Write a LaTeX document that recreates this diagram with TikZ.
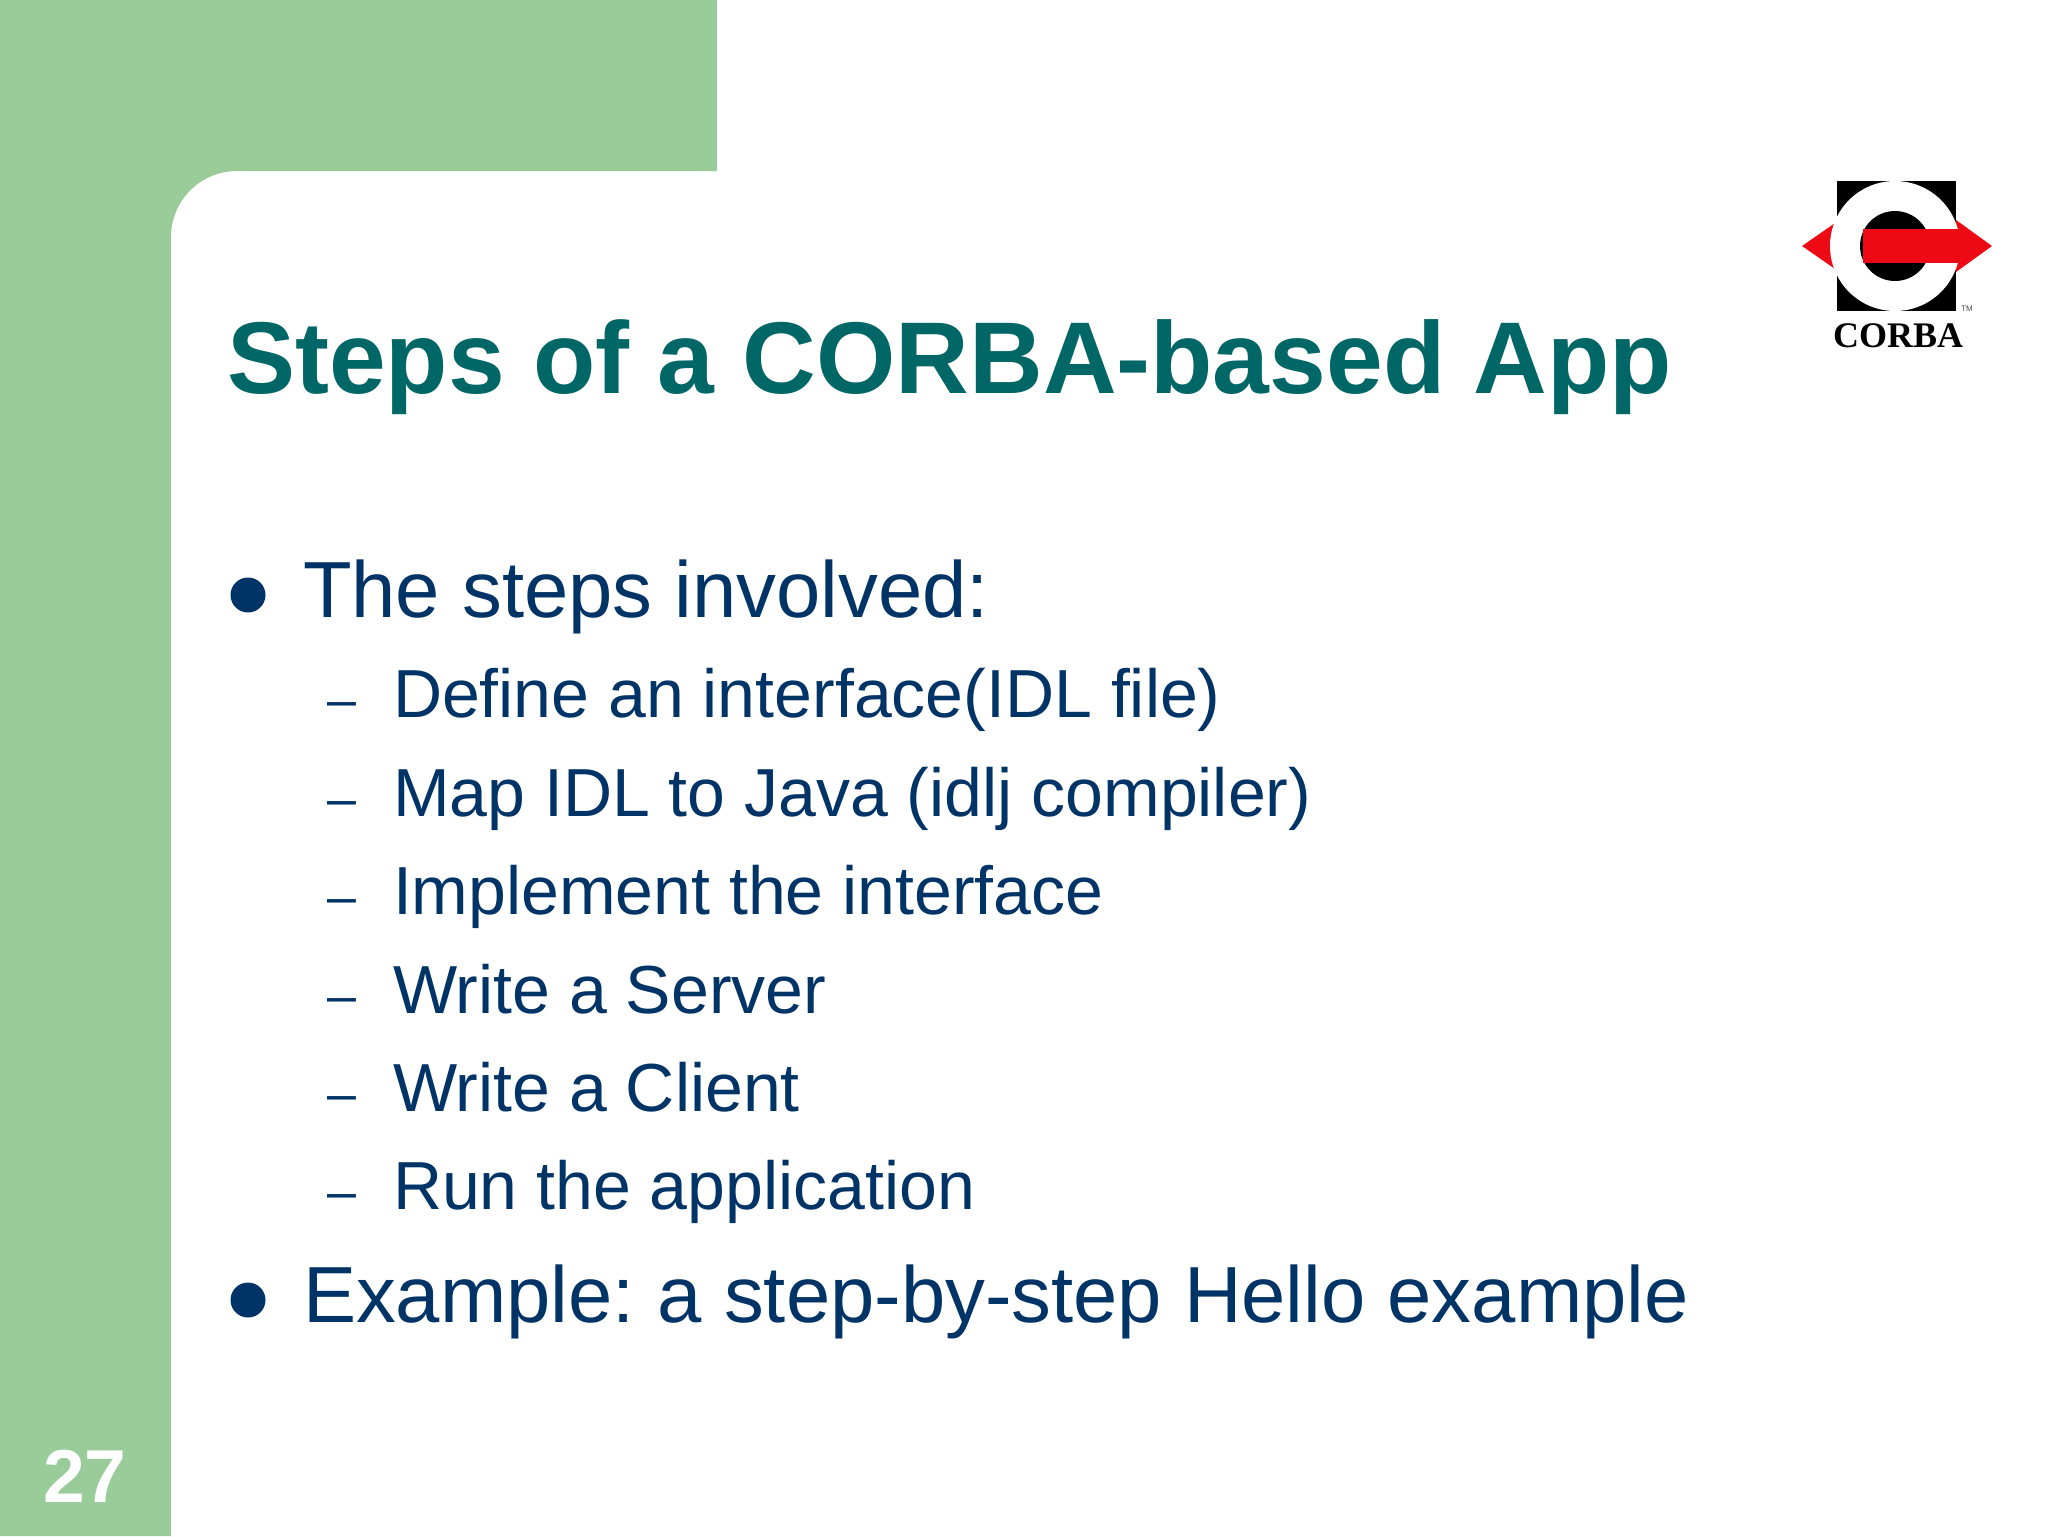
\documentclass[tikz,border=0pt]{standalone}
\usepackage{fontspec}
\setmainfont{Liberation Sans}
\newfontfamily\logofont{Liberation Serif}
\usepackage{xcolor}
\usetikzlibrary{positioning}
\definecolor{slidegreen}{HTML}{99CC99}
\definecolor{titleteal}{HTML}{006666}
\definecolor{textblue}{HTML}{003366}
\definecolor{logored}{HTML}{EE0A14}

\begin{document}
\begin{tikzpicture}[x=0.5pt,y=-0.5pt,node distance=0pt,every node/.style={inner sep=0pt, outer sep=0pt}]
\tikzset{steptext/.style={text=textblue,font=\fontsize{34}{36}\selectfont,text height=36pt,text depth=13.2pt,anchor=west},
  steptick/.style={steptext,font=\fontsize{26}{30}\selectfont},
  toptext/.style={text=textblue,font=\fontsize{39.8}{44}\selectfont,anchor=base west},
  topdot/.style={circle,fill=textblue,minimum size=17.5pt}}

  \useasboundingbox (0,0) rectangle (2048,1536);
  \fill[white] (0,0) rectangle (2048,1536);

  % green frame
  \fill[slidegreen] (0,0) -- (717,0) -- (717,171) [rounded corners=33pt] -- (171,171) [sharp corners] -- (171,1536) -- (0,1536) -- cycle;
  \node(PageNo) [anchor=base,text=white,font=\fontsize{37.5}{40}\selectfont\bfseries] at (85,1502) {27};

  \node(Title) [anchor=base west,text=titleteal,font=\fontsize{51}{54}\selectfont\bfseries] at (227,393) {Steps of a CORBA-based App};

  \node(TopA) [toptext] at (303,617) {The steps involved:};
  \node(DotA) [topdot] at (248,595) {};

  \node(StepA) [steptext] at (393,695) {Define an interface(IDL file)};
  \node(StepB) [steptext,below=of StepA.south west,anchor=north west] {Map IDL to Java (idlj compiler)};
  \node(StepC) [steptext,below=of StepB.south west,anchor=north west] {Implement the interface};
  \node(StepD) [steptext,below=of StepC.south west,anchor=north west] {Write a Server};
  \node(StepE) [steptext,below=of StepD.south west,anchor=north west] {Write a Client};
  \node(StepF) [steptext,below=of StepE.south west,anchor=north west] {Run the application};

  \node(TickA) [steptick,left=18.5pt of StepA.west] {--};
  \node(TickB) [steptick,left=18.5pt of StepB.west] {--};
  \node(TickC) [steptick,left=18.5pt of StepC.west] {--};
  \node(TickD) [steptick,left=18.5pt of StepD.west] {--};
  \node(TickE) [steptick,left=18.5pt of StepE.west] {--};
  \node(TickF) [steptick,left=18.5pt of StepF.west] {--};

  \node(TopB) [toptext] at (303,1322) {Example:\kern-3.2pt{} a step-by-step Hello example};
  \node(DotB) [topdot] at (248,1300) {};

  % logo
  \fill[black] (1837,181) rectangle (1956,311);
  \fill[logored] (1802,246) -- (1838,221) -- (1838,271) -- cycle;
  \fill[logored] (1992,246) -- (1956,220) -- (1956,272) -- cycle;
  \fill[white] (1895,246) circle (32.5pt);
  \fill[black] (1895,246) circle (17.5pt);
  \fill[logored] (1863,229) rectangle (1962,263);
  \node(LogoName) [anchor=base,text=black,font=\logofont\fontsize{18}{22}\selectfont\bfseries] at (1898,347) {CORBA};
  \node(LogoMark) [anchor=base,text=black!70,font=\fontsize{4}{5}\selectfont] at (1967,311) {TM};
\end{tikzpicture}
\end{document}
